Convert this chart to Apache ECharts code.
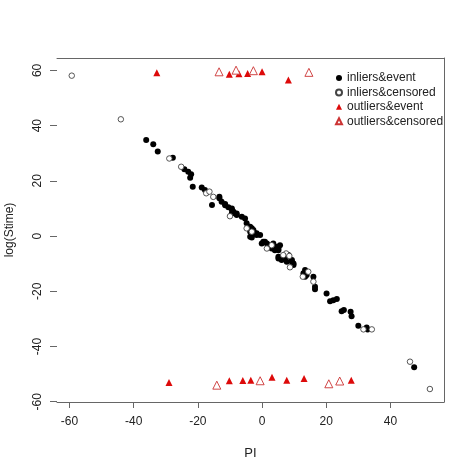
<!DOCTYPE html>
<html>
<head>
<meta charset="utf-8">
<script src="https://cdn.jsdelivr.net/npm/echarts@6/dist/echarts.min.js"></script>
<style>html,body{margin:0;padding:0;background:#fff;}#c{width:474px;height:474px;}</style>
</head>
<body>
<div id="c"></div>
<script>
const xTicks = [-60, -40, -20, 0, 20, 40];
const yTicks = [-60, -40, -20, 0, 20, 40, 60];
const seriesNames = ['inliers&event', 'inliers&censored', 'outliers&event', 'outliers&censored'];

const inliersEvent = [
  [-36.1,34.8],[-33.9,33.3],[-32.5,30.6],[-27.8,28.4],[-24.2,24.2],[-23.0,23.3],[-22.1,22.4],[-22.4,21.1],
  [-21.6,17.9],[-18.8,17.6],[-17.8,16.7],[-15.6,11.3],[-13.3,13.7],[-12.6,12.4],[-11.5,11.6],[-10.5,10.4],
  [-9.4,9.4],[-7.9,8.2],[-13.3,14.2],[-11.5,11.2],[-9.4,10.0],[-8.9,8.8],[-9.4,8.2],[-7.9,7.6],[-6.3,7.0],
  [-5.3,6.4],[-4.8,4.6],[-3.7,3.4],[-2.7,2.2],[-1.7,1.0],[-0.6,0.4],[-3.7,-0.2],[-0.1,-2.7],[0.9,-2.1],
  [2.0,-3.3],[2.5,-3.9],[3.0,-4.5],[4.0,-5.1],[5.1,-4.5],[5.1,-8.1],[6.1,-8.7],[9.3,-8.7],[9.8,-9.9],
  [-3.7,1.6],[-2.2,1.0],[-3.2,-0.5],[0.4,-2.1],[1.5,-2.7],[3.5,-2.7],[4.6,-3.9],[5.1,-5.1],[5.6,-3.3],
  [5.1,-7.5],[7.2,-8.1],[8.2,-6.9],[7.7,-9.3],[9.3,-9.3],[9.8,-10.5],[12.9,-13.5],[13.4,-14.7],[13.9,-14.1],
  [16.0,-14.7],[16.5,-18.4],[16.5,-19.3],[20.1,-20.8],[21.2,-23.6],[22.2,-23.2],[23.3,-22.8],[24.8,-27.2],
  [25.5,-26.8],[27.6,-27.4],[27.9,-29.0],[30.0,-32.5],[32.6,-33.1],[32.9,-33.8],[47.4,-47.5],
  [-1.7,0.4],[-3.2,2.8],[13.4,-12.3]
];
const inliersCensored = [
  [-59.3,58.1],[-44.0,42.3],[-28.9,28.1],[-25.2,25.1],[-17.4,15.5],[-16.4,16.1],[-15.2,14.2],[-10.0,7.2],
  [-4.8,2.8],[-3.2,1.6],[1.5,-4.5],[3.0,-3.3],[7.5,-6.3],[8.5,-7.2],[8.7,-11.3],[6.6,-6.9],[14.4,-12.9],
  [12.7,-14.7],[16.0,-16.5],[31.6,-33.8],[34.2,-33.8],[46.1,-45.5],[52.3,-55.4]
];
const outliersEvent = [
  [-32.8,59.2],[-10.2,58.6],[-7.2,58.8],[-4.5,58.9],[0.0,59.5],[8.2,56.5],
  [-29.0,-53.0],[-10.2,-52.4],[-6.0,-52.3],[-3.5,-52.2],[3.1,-51.1],[7.7,-52.2],[13.1,-51.6],[27.8,-52.2]
];
const outliersCensored = [
  [-13.4,59.5],[-8.1,60.1],[-2.7,59.9],[14.6,59.3],
  [-14.1,-54.0],[-0.6,-52.4],[20.8,-53.5],[24.2,-52.5]
];

const FONT = 'Liberation Sans';
const axisTxt = { color: '#222', fontFamily: FONT, fontSize: 12 };
const lineStyle = { color: '#666', width: 1 };
const red = '#dd0a0a';

const chart = echarts.init(document.getElementById('c'), null, { renderer: 'canvas' });
chart.setOption({
  animation: false,
  backgroundColor: '#fff',
  grid: { left: 57, right: 30, top: 58, bottom: 72, containLabel: false, outerBoundsMode: 'none' },
  legend: {
    orient: 'vertical', left: 330, top: 67, itemWidth: 6, itemHeight: 6, itemGap: 2.4,
    textStyle: { color: '#222', fontFamily: FONT, fontSize: 12 },
    data: seriesNames
  },
  xAxis: [
    {
      type: 'value', min: -63.9, max: 56.7, position: 'bottom',
      name: 'PI', nameLocation: 'middle', nameGap: 45, nameTextStyle: { ...axisTxt, fontSize: 13 },
      axisLine: { show: true, onZero: false, lineStyle: lineStyle },
      axisTick: { show: true, length: 6, lineStyle: lineStyle, customValues: xTicks },
      axisLabel: { ...axisTxt, margin: 14, customValues: xTicks },
      splitLine: { show: false }
    },
    {
      type: 'value', min: -63.9, max: 56.7, position: 'top',
      axisLine: { show: true, onZero: false, lineStyle: lineStyle },
      axisTick: { show: false }, axisLabel: { show: false }, splitLine: { show: false }
    }
  ],
  yAxis: [
    {
      type: 'value', min: -60.1, max: 64.5, position: 'left',
      name: 'log(Stime)', nameLocation: 'middle', nameGap: 41, nameTextStyle: axisTxt,
      axisLine: { show: false, onZero: false },
      axisTick: { show: true, length: 7, lineStyle: lineStyle, customValues: yTicks },
      axisLabel: { ...axisTxt, rotate: 90, margin: 13, customValues: yTicks },
      splitLine: { show: false }
    },
    {
      type: 'value', min: -60.1, max: 64.5, position: 'right',
      axisLine: { show: true, onZero: false, lineStyle: lineStyle },
      axisTick: { show: false }, axisLabel: { show: false }, splitLine: { show: false }
    }
  ],
  series: [
    { name: seriesNames[0], type: 'scatter', data: inliersEvent, symbol: 'circle', symbolSize: 6,
      itemStyle: { color: '#000', opacity: 1 }, z: 2 },
    { name: seriesNames[1], type: 'scatter', data: inliersCensored, symbol: 'circle', symbolSize: 5.5,
      itemStyle: { color: '#fff', borderColor: '#444', borderWidth: 0.9, opacity: 1 }, z: 3 },
    { name: seriesNames[2], type: 'scatter', data: outliersEvent, symbol: 'triangle', symbolSize: 7,
      itemStyle: { color: red, opacity: 1 }, z: 2 },
    { name: seriesNames[3], type: 'scatter', data: outliersCensored, symbol: 'triangle', symbolSize: 8,
      itemStyle: { color: '#fff', borderColor: '#cc3333', borderWidth: 0.9, opacity: 1 }, z: 3 }
  ]
});
</script>
</body>
</html>
